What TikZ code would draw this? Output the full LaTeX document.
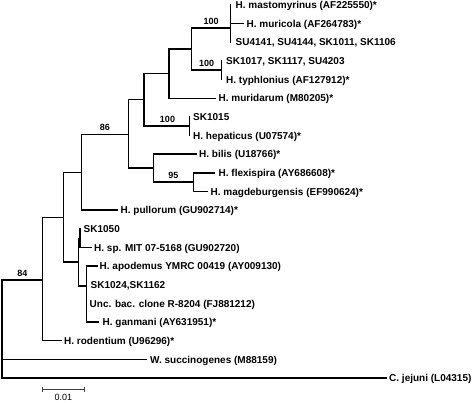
\documentclass[tikz,border=0pt]{standalone}
\usepackage{fontspec}
\setmainfont{Liberation Sans}
\begin{document}
\begin{tikzpicture}[x=1pt,y=-1pt,
  br/.style={line width=1.5pt, line cap=rect, line join=miter},
  leaf/.style={anchor=west, inner sep=0pt, text height=7.2pt, text depth=0pt, font=\bfseries\fontsize{10}{12}\selectfont},
  boot/.style={anchor=south, inner sep=0pt, text height=6.4pt, text depth=0pt, font=\bfseries\fontsize{9}{11}\selectfont},
  scalebar/.style={line width=1pt, draw=black!75},
  scaletext/.style={anchor=center, inner sep=0pt, text height=6.4pt, text depth=0pt, font=\fontsize{9}{11}\selectfont},
]
\useasboundingbox (0,0) rectangle (474,402);

% internal nodes
\coordinate (R)  at (2,329);
\coordinate (I)  at (42.7,280);
\coordinate (W)  at (63.3,217.3);
\coordinate (Z)  at (81.7,172.3);
\coordinate (Y)  at (128.3,134.3);
\coordinate (X)  at (144,99.5);
\coordinate (M)  at (169,73.5);
\coordinate (N)  at (191.7,49);
\coordinate (Mc) at (230.7,28);
\coordinate (Sk) at (221.7,70);
\coordinate (He) at (189.3,126);
\coordinate (B)  at (153.3,168);
\coordinate (F)  at (193.3,182.2);
\coordinate (V)  at (78.3,262);
\coordinate (U)  at (80,238.3);
\coordinate (T)  at (86.7,286);

% leaf tips and labels
\coordinate (t0) at (230.7,4.9);   \node[leaf] (l0) at (235.5,4.9) {H. mastomyrinus (AF225550)*};
\coordinate (t1) at (243,23.6);    \node[leaf] (l1) at (246.5,23.6) {H. muricola (AF264783)*};
\coordinate (t2) at (230.7,42.3);  \node[leaf] (l2) at (235.5,42.3) {SU4141, SU4144, SK1011, SK1106};
\coordinate (t3) at (221.7,61);    \node[leaf] (l3) at (226,61) {SK1017, SK1117, SU4203};
\coordinate (t4) at (221.7,79.6);  \node[leaf] (l4) at (226,79.6) {H. typhlonius (AF127912)*};
\coordinate (t5) at (215,98.3);    \node[leaf] (l5) at (218.5,98.3) {H. muridarum (M80205)*};
\coordinate (t6) at (189.3,116.9); \node[leaf] (l6) at (193,116.9) {SK1015};
\coordinate (t7) at (189.3,135.5); \node[leaf] (l7) at (193,135.5) {H. hepaticus (U07574)*};
\coordinate (t8) at (196.5,154.2); \node[leaf] (l8) at (199,154.2) {H. bilis (U18766)*};
\coordinate (t9) at (214,172.9);   \node[leaf] (l9) at (218.5,172.9) {H. flexispira (AY686608)*};
\coordinate (t10) at (207,191.5);  \node[leaf] (l10) at (210.5,191.5) {H. magdeburgensis (EF990624)*};
\coordinate (t11) at (117,210.2);  \node[leaf] (l11) at (120.5,210.2) {H. pullorum (GU902714)*};
\coordinate (t12) at (80,228.8);   \node[leaf] (l12) at (83.5,228.8) {SK1050};
\coordinate (t13) at (91.5,247.5); \node[leaf] (l13) at (94,247.5) {H. sp. MIT 07-5168 (GU902720)};
\coordinate (t14) at (97,266.1);   \node[leaf] (l14) at (99.5,266.1) {H. apodemus YMRC 00419 (AY009130)};
\coordinate (t15) at (86.7,284.8); \node[leaf] (l15) at (90.5,284.8) {SK1024,SK1162};
\coordinate (t16) at (86.7,303.4); \node[leaf] (l16) at (89.5,303.4) {Unc. bac. clone R-8204 (FJ881212)};
\coordinate (t17) at (98.3,322);   \node[leaf] (l17) at (102.5,322) {H. ganmani (AY631951)*};
\coordinate (t18) at (61.7,340.7); \node[leaf] (l18) at (64,340.7) {H. rodentium (U96296)*};
\coordinate (t19) at (146.7,359.4);\node[leaf] (l19) at (150,359.4) {W. succinogenes (M88159)};
\coordinate (t20) at (386,378);    \node[leaf] (l20) at (389,378) {C. jejuni (L04315)};

% branches
\draw[br] (R) |- (I);  \draw[br] (R) |- (t19); \draw[br] (R) |- (t20);
\draw[br] (I) |- (W);  \draw[br] (I) |- (t18);
\draw[br] (W) |- (Z);  \draw[br] (W) |- (V);
\draw[br] (Z) |- (Y);  \draw[br] (Z) |- (t11);
\draw[br] (Y) |- (X);  \draw[br] (Y) |- (B);
\draw[br] (X) |- (M);  \draw[br] (X) |- (He);
\draw[br] (M) |- (N);  \draw[br] (M) |- (t5);
\draw[br] (N) |- (Mc); \draw[br] (N) |- (Sk);
\draw[br] (Mc) |- (t0); \draw[br] (Mc) |- (t1); \draw[br] (Mc) |- (t2);
\draw[br] (Sk) |- (t3); \draw[br] (Sk) |- (t4);
\draw[br] (He) |- (t6); \draw[br] (He) |- (t7);
\draw[br] (B) |- (t8);  \draw[br] (B) |- (F);
\draw[br] (F) |- (t9);  \draw[br] (F) |- (t10);
\draw[br] (V) |- (U);   \draw[br] (V) |- (T);
\draw[br] (U) |- (t12); \draw[br] (U) |- (t13);
\draw[br] (T) |- (t14); \draw[br] (T) |- (t15); \draw[br] (T) |- (t16); \draw[br] (T) |- (t17);

% bootstrap values
\node[boot] (b84) at (22.3,276.7) {84};
\node[boot] (b86) at (105,131) {86};
\node[boot] (b100a) at (211.2,24.7) {100};
\node[boot] (b100b) at (206.7,66.7) {100};
\node[boot] (b100c) at (167.5,122.7) {100};
\node[boot] (b95) at (173.3,178.9) {95};

% scale bar
\coordinate (s1) at (42.7,389.5);
\coordinate (s2) at (84,389.5);
\draw[scalebar] (s1) -- (s2);
\draw[scalebar] (s1) ++(0,-2.6) -- ++(0,5.2);
\draw[scalebar] (s2) ++(0,-2.6) -- ++(0,5.2);
\node[scaletext] (sl) at (63.3,397.3) {0.01};
\end{tikzpicture}
\end{document}
